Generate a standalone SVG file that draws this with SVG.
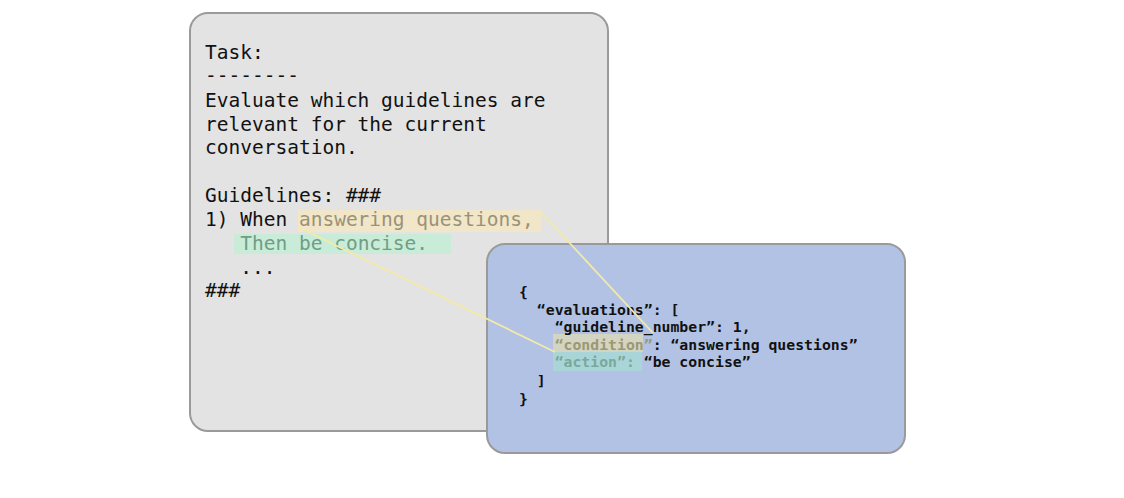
<svg xmlns="http://www.w3.org/2000/svg" width="1124" height="498" viewBox="0 0 1124 498">
<style>
.l{font-family:"DejaVu Sans Mono","Liberation Mono",monospace;font-size:19.5px;fill:#111}
.r{font-family:"DejaVu Sans Mono","Liberation Mono",monospace;font-size:14.8px;font-weight:bold;fill:#111}
.c{stroke:#f3eaa8;stroke-width:1.8;fill:none}
</style>
<rect width="1124" height="498" fill="#fff"/>
<g id="prompt">
<rect x="190" y="13" width="418" height="418" rx="18" fill="#e3e3e3" stroke="#9a9a9a" stroke-width="2"/>
<rect x="298" y="210" width="243" height="22" fill="#f1e6c8"/>
<rect x="234" y="234" width="217" height="20" fill="#c8ecd8"/>
<text class="l" x="205" y="59">Task:</text>
<text class="l" x="205" y="82">--------</text>
<text class="l" x="205" y="107">Evaluate which guidelines are</text>
<text class="l" x="205" y="131">relevant for the current</text>
<text class="l" x="205" y="154">conversation.</text>
<text class="l" x="205" y="202">Guidelines: ###</text>
<text class="l" x="205" y="226">1) When <tspan fill="#9a9278">answering questions,</tspan></text>
<text class="l" x="205" y="250" xml:space="preserve">   <tspan fill="#6f9e86">Then be concise.</tspan></text>
<text class="l" x="205" y="274" xml:space="preserve">   ...</text>
<text class="l" x="205" y="297">###</text>
</g>
<g id="output">
<rect x="487" y="244" width="418" height="209" rx="18" fill="#b1c2e4" stroke="#9a9a9a" stroke-width="2"/>
<rect x="553" y="334" width="90" height="18" fill="#d3d4c2"/>
<rect x="553" y="352" width="89" height="19" fill="#a9d5d8"/>
<text class="r" x="519" y="297">{</text>
<text class="r" x="519" y="315" xml:space="preserve">  “evaluations”: [</text>
<text class="r" x="519" y="332" xml:space="preserve">    “guideline_number”: 1,</text>
<text class="r" x="519" y="350" xml:space="preserve">    <tspan fill="#9b9873">“condition”</tspan>: “answering questions”</text>
<text class="r" x="519" y="367" xml:space="preserve">    <tspan fill="#7aa89a">“action”: </tspan>“be concise”</text>
<text class="r" x="519" y="386" xml:space="preserve">  ]</text>
<text class="r" x="519" y="404">}</text>
</g>
<g id="connectors">
<line class="c" x1="540" y1="211" x2="653" y2="333"/>
<line class="c" x1="300" y1="228" x2="555" y2="352"/>
</g>
</svg>
